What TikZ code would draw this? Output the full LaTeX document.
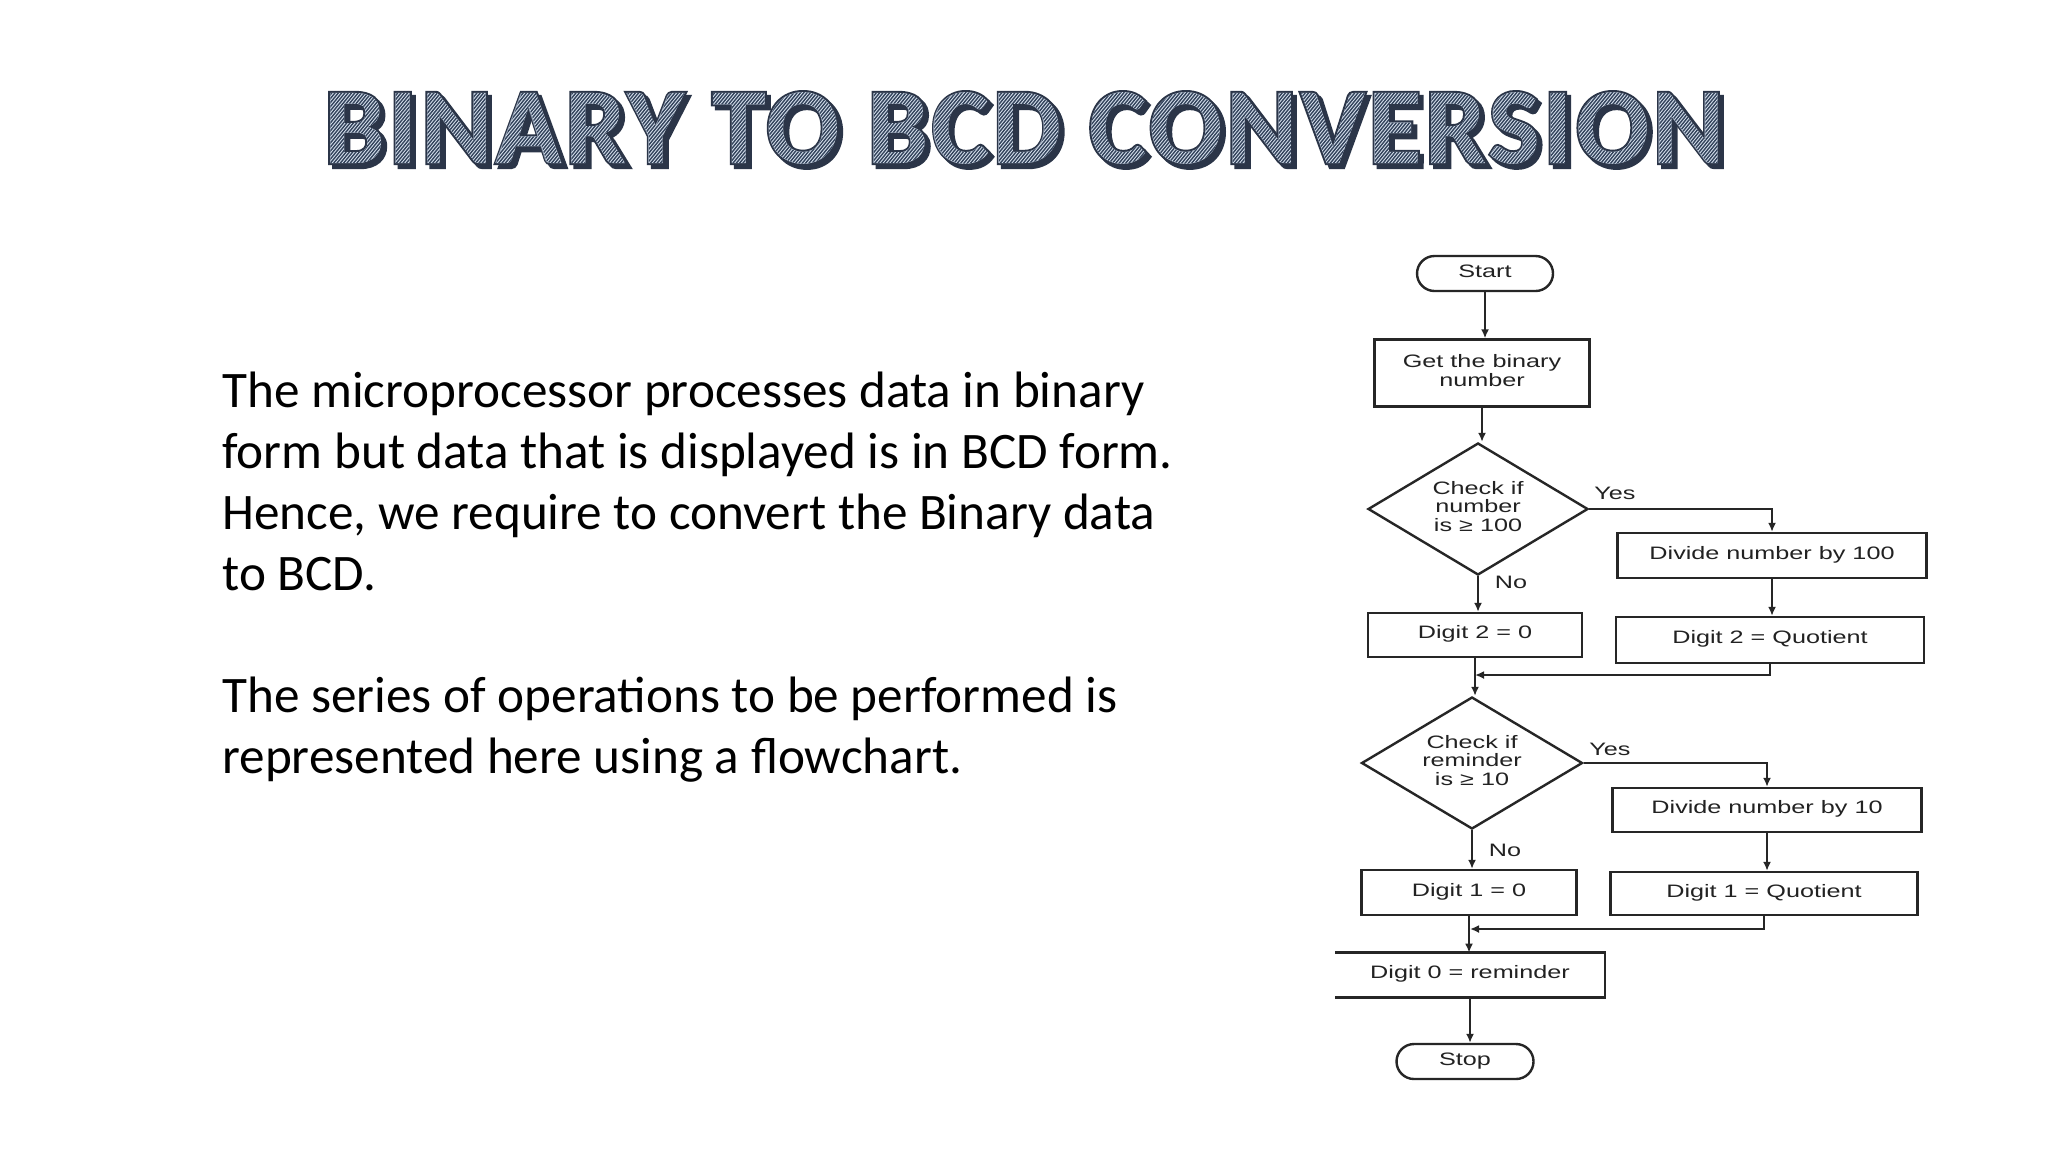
\documentclass[tikz,border=0pt]{standalone}
\usepackage{fontspec}
\usepackage{graphicx}
\usetikzlibrary{shapes.geometric,arrows.meta}
\setmainfont{Carlito}
\newfontfamily\bodyfont{Carlito}
\newfontfamily\titlefont{Carlito}[LetterSpace=3.5]
\newfontfamily\titlestroke{Carlito}[LetterSpace=3.5,BoldFeatures={FakeBold=4}]
\newfontfamily\fcfont{Liberation Sans}
\definecolor{fcline}{HTML}{262626}
\definecolor{fctext}{HTML}{222222}
\definecolor{ttlfill}{HTML}{9BA7BA}
\definecolor{ttldark}{HTML}{2B3548}
\definecolor{hatchlight}{HTML}{D8E2EF}
\definecolor{hatchdark}{HTML}{34445C}
\newsavebox\ttlbox
\newlength\ttlwd
\newcommand{\fct}[1]{\scalebox{1.4}[1]{\fcfont\fontsize{9}{9}\selectfont\begin{tabular}{@{}c@{}}#1\end{tabular}}}
\newcommand{\ttltext}{BINARY TO BCD CONVERSION}
\newcommand{\ttlsize}{\fontsize{54}{60}\selectfont}
\begin{document}
\begin{tikzpicture}[x=0.5pt,y=-0.5pt,
  fcbox/.style={draw=fcline, line width=1.2pt, rectangle, inner sep=0pt, text=fctext},
  fcterm/.style={fcbox, rounded corners=8.75pt},
  fcdec/.style={draw=fcline, line width=1.2pt, diamond, aspect=1.667, inner sep=0pt, text=fctext},
  conn/.style={draw=fcline, line width=1pt, -{Latex[length=4.5pt,width=4pt]}},
  lbl/.style={text=fctext, inner sep=0pt},
  bodyline/.style={anchor=base west, inner sep=0pt, text=black, font=\bodyfont\fontsize{25.6}{30}\selectfont}
]
\fill[white] (0,0) rectangle (2048,1152);
\useasboundingbox (0,0) rectangle (2048,1152);

% title: shadow and outline
\node[anchor=base, inner sep=0pt, text=ttldark] (ttlshadow) at (1028,167) {\titlestroke\bfseries\ttlsize\ttltext};
\node[anchor=base, inner sep=0pt, text=ttldark] (ttlout) at (1024,163) {\titlestroke\bfseries\ttlsize\ttltext};
\node[anchor=base, inner sep=0pt, text=ttlfill] (ttl) at (1024,163) {\titlefont\bfseries\ttlsize\ttltext};

% body text
\node[bodyline] (l1) at (222,407) {The microprocessor processes data in binary};
\node[bodyline] (l2) at (222,468) {form but data that is displayed is in BCD form.};
\node[bodyline] (l3) at (222,529) {Hence, we require to convert the Binary data};
\node[bodyline] (l4) at (222,590) {to BCD.};
\node[bodyline] (l5) at (222,712) {The series of operations to be performed is};
\node[bodyline] (l6) at (222,773) {represented here using a flowchart.};

% flowchart
\node[fcterm, minimum width=68pt, minimum height=17.5pt] (start) at (1485,273.5) {\fct{Start}};
\node[fcbox, minimum width=107.5pt, minimum height=33.5pt] (get) at (1482,373) {\fct{Get the binary\\number}};
\node[fcdec, minimum width=110pt, minimum height=66pt] (d1) at (1478,509) {\fct{Check if\\number\\is ≥ 100}};
\node[fcbox, minimum width=154.5pt, minimum height=22.5pt] (div100) at (1772,555.5) {\fct{Divide number by 100}};
\node[fcbox, minimum width=107pt, minimum height=22pt] (d20) at (1475,635) {\fct{Digit 2 = 0}};
\node[fcbox, minimum width=154pt, minimum height=23pt] (d2q) at (1770,640) {\fct{Digit 2 = Quotient}};
\node[fcdec, minimum width=110.5pt, minimum height=66pt] (d2) at (1472,763) {\fct{Check if\\reminder\\is ≥ 10}};
\node[fcbox, minimum width=154.5pt, minimum height=22pt] (div10) at (1767,810) {\fct{Divide number by 10}};
\node[fcbox, minimum width=107.5pt, minimum height=22.5pt] (d10) at (1469,892.5) {\fct{Digit 1 = 0}};
\node[fcbox, minimum width=153.5pt, minimum height=21.5pt] (d1q) at (1764,893.5) {\fct{Digit 1 = Quotient}};
\node[rectangle, inner sep=0pt, text=fctext, minimum width=134.5pt, minimum height=22pt] (dig0) at (1470,975) {\fct{Digit 0 = reminder}};
\draw[fcline, line width=1.2pt] (dig0.north west) -- (dig0.north east) -- (dig0.south east) -- (dig0.south west);
\node[fcterm, minimum width=68.5pt, minimum height=17.5pt] (stop) at (1465,1061.5) {\fct{Stop}};

\coordinate (m1) at (1475,675);
\coordinate (m2) at (1470,929);

\draw[conn] (start.south) -- (start.south |- get.north);
\draw[conn] (get.south) -- (get.south |- d1.north);
\draw[conn] (d1.east) -| (div100.north);
\draw[conn] (d1.south) -- (d1.south |- d20.north);
\draw[conn] (div100.south) -- (div100.south |- d2q.north);
\draw[conn] (d2q.south) |- (m1);
\draw[conn] (d20.south) -- (d20.south |- d2.north);
\draw[conn] (d2.east) -| (div10.north);
\draw[conn] (d2.south) -- (d2.south |- d10.north);
\draw[conn] (div10.south) -- (div10.south |- d1q.north);
\draw[conn] (d1q.south) |- (m2);
\draw[conn] (d10.south) -- (d10.south |- dig0.north);
\draw[conn] (dig0.south) -- (dig0.south |- stop.north);

\node[lbl] (yes1) at (1615,496) {\fct{Yes}};
\node[lbl] (no1) at (1511,585) {\fct{No}};
\node[lbl] (yes2) at (1610,752) {\fct{Yes}};
\node[lbl] (no2) at (1505,853) {\fct{No}};

% title hatch fill: text used as clip path, then diagonal stripes
\node[anchor=base, inner sep=0pt] (ttlhatch) at (1024,163) {%
  \sbox\ttlbox{\titlefont\bfseries\ttlsize\ttltext}%
  \setlength\ttlwd{\wd\ttlbox}%
  \special{pdf:bcontent}\special{pdf:literal direct 7 Tr}%
  \usebox\ttlbox
  \special{pdf:literal direct 0 Tr}%
  \llap{\tikz[x=1pt,y=1pt,baseline=0pt]{%
    \useasboundingbox (0,0) rectangle (\ttlwd,0.1);
    \fill[hatchlight] (-5,-10) rectangle ({\ttlwd+5},50);
    \foreach \i in {-30,...,440} {\draw[hatchdark, line width=0.7pt] ({\i*1.65},-10) -- ++(45,55);}
  }}%
  \special{pdf:econtent}%
};
\end{tikzpicture}
\end{document}
